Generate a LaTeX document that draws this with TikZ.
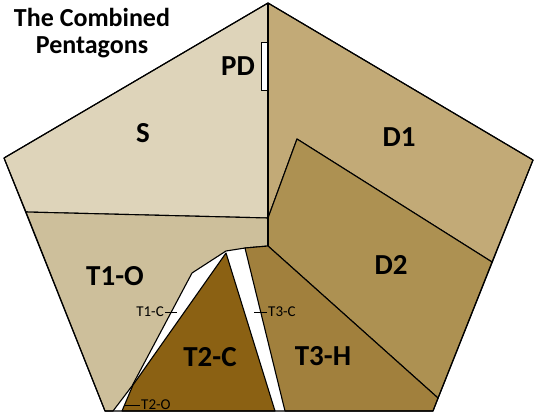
\documentclass[tikz,border=0pt]{standalone}
\usepackage{fontspec}
\setmainfont{Carlito}
\definecolor{sColor}{RGB}{222,212,186}
\definecolor{toColor}{RGB}{205,191,155}
\definecolor{dOneColor}{RGB}{194,170,119}
\definecolor{dTwoColor}{RGB}{173,145,82}
\definecolor{thColor}{RGB}{161,128,61}
\definecolor{tcColor}{RGB}{139,97,19}
\begin{document}
\begin{tikzpicture}[x=1pt,y=-1pt,
  region/.style={draw=black, line width=1.1pt, line join=round},
  biglabel/.style={font=\fontsize{29}{30}\selectfont\bfseries},
  smalllabel/.style={font=\fontsize{15}{16}\selectfont, inner sep=1pt},
  pointer/.style={draw=black, line width=0.8pt}]
\useasboundingbox (0,0) rectangle (537,417);
% REGIONS
\begin{scope} % S
\draw[region, fill=sColor] (268,3) -- (4,158) -- (26,212) -- (268,218) -- cycle;
\end{scope}
\begin{scope} % D1
\draw[region, fill=dOneColor] (268,3) -- (533,160) -- (492,262) -- (297,139) -- (268,218) -- cycle;
\end{scope}
\begin{scope} % D2
\draw[region, fill=dTwoColor] (297,139) -- (492,262) -- (438,398) -- (268,246) -- (268,218) -- cycle;
\end{scope}
\begin{scope} % T1-O
\draw[region, fill=toColor] (26,212) -- (268,218) -- (268,246) -- (245,248) -- (226,251)
  -- (192,273) -- (132,386) -- (113,411) -- (105,411) -- cycle;
\end{scope}
\begin{scope} % T2-C
\draw[region, fill=tcColor] (226,253) -- (275,411) -- (122,411) -- (133,385) -- cycle;
\end{scope}
\begin{scope} % T3-H
\draw[region, fill=thColor] (245,248) -- (268,246) -- (438,398) -- (433,411) -- (285,411) -- cycle;
\end{scope}
% PD door
\draw[line width=0.8pt, fill=white] (261,42) rectangle (268,90);
% Outer pentagon
\draw[region] (268,3) -- (533,160) -- (433,411) -- (105,411) -- (4,158) -- cycle;
\draw[region] (268,3) -- (268,246);
% TEXT
\node[font=\fontsize{26}{27}\selectfont\bfseries, align=center] at (92,33) (title) {The Combined\\Pentagons};
\node[biglabel] at (238,66) (pd) {PD};
\node[biglabel] at (143,133) (s) {S};
\node[biglabel] at (399,137) (d_one) {D1};
\node[biglabel] at (391,265) (d_two) {D2};
\node[biglabel] at (115,276) (t_one_o) {T1-O};
\node[biglabel] at (210,357) (t_two_c) {T2-C};
\node[biglabel] at (323,356) (t_three_h) {T3-H};
\node[smalllabel, anchor=east] at (165,312) (t_one_c) {T1-C};
\node[smalllabel, anchor=west] at (267,312) (t_three_c) {T3-C};
\node[smalllabel, anchor=west] at (140,405) (t_two_o) {T2-O};
\coordinate (gap_one) at (177,312);
\coordinate (gap_three) at (254,312);
\coordinate (gap_two) at (125,405);
\draw[pointer] (t_one_c) -- (gap_one);
\draw[pointer] (t_three_c) -- (gap_three);
\draw[pointer] (t_two_o) -- (gap_two);
\end{tikzpicture}
\end{document}
